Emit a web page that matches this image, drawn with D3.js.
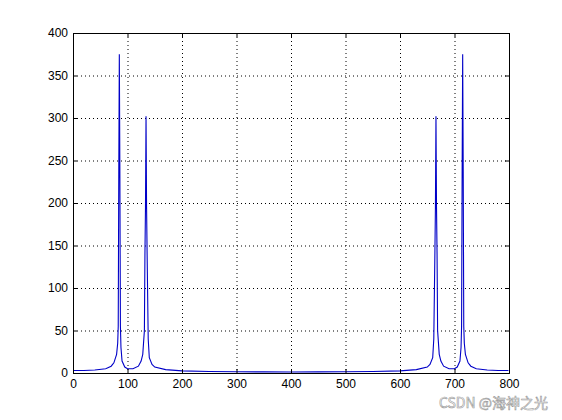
<!DOCTYPE html>
<html><head><meta charset="utf-8">
<script src="https://cdn.jsdelivr.net/npm/d3@7"></script>
<style>body{margin:0;background:#fff}</style></head>
<body><svg id="c" width="562" height="420"></svg>
<script>
const xs = [0,20,40,60,70,75,80,82,83,84,85,86,87,88,90,95,100,110,120,125,128,131,132,133,134,135,136,138,140,145,150,170,200,250,300,350,400,
  450,500,550,600,630,650,655,660,662,664,665,666,667,668,669,672,675,680,690,700,705,710,712,713,714,715,716,717,718,720,725,730,740,760,780,799];
const ys = [3,3,3.5,5,8,12,22,35,55,235,375,235,55,30,14,7,5,5,8,14,22,50,140,195,302,195,140,40,18,10,7,4,2.5,1.8,1.5,1.3,1.2,
  1.3,1.5,1.8,2.5,4,7,10,18,40,140,195,302,195,140,50,22,14,8,5,5,7,14,30,55,235,375,235,55,35,22,12,8,5,3.5,3,3];
const xTicks = [0,100,200,300,400,500,600,700,800];
const yTicks = [0,50,100,150,200,250,300,350,400];

const svg = d3.select("#c");
const L=73,R=509,T=33,B=373;
const x = d3.scaleLinear().domain([0,800]).range([L,R]);
const y = d3.scaleLinear().domain([0,400]).range([B,T]);
const g = svg.append("g");
g.selectAll(".gx").data(xTicks.slice(1,-1)).enter().append("line")
 .attr("x1",d=>x(d)+.5).attr("x2",d=>x(d)+.5).attr("y1",T).attr("y2",B)
 .attr("stroke","#000").attr("stroke-dasharray","1,3").attr("stroke-width",1);
g.selectAll(".gy").data(yTicks.slice(1,-1)).enter().append("line")
 .attr("y1",d=>y(d)+.5).attr("y2",d=>y(d)+.5).attr("x1",L).attr("x2",R)
 .attr("stroke","#000").attr("stroke-dasharray","1,3").attr("stroke-width",1);
const data = xs.map((v,i)=>[v,ys[i]]);
g.append("path").datum(data).attr("fill","none").attr("stroke","#0000c8").attr("stroke-width",1.1)
 .attr("d",d3.line().x(d=>x(d[0])).y(d=>y(d[1])));
const font = "Helvetica, 'Liberation Sans', Arial, sans-serif";
const ax = svg.append("g").attr("transform",`translate(0,${B})`).call(d3.axisBottom(x).tickValues(xTicks).tickSize(-4).tickPadding(6));
const ay = svg.append("g").attr("transform",`translate(${L},0)`).call(d3.axisLeft(y).tickValues(yTicks).tickSize(-4).tickPadding(5));
const axt = svg.append("g").attr("transform",`translate(0,${T})`).call(d3.axisTop(x).tickValues(xTicks).tickSize(-4).tickFormat(""));
const ayr = svg.append("g").attr("transform",`translate(${R},0)`).call(d3.axisRight(y).tickValues(yTicks).tickSize(-4).tickFormat(""));
[ax,ay,axt,ayr].forEach(a=>{a.selectAll("text").attr("font-family",font).attr("font-size",12).attr("fill","#000");
 a.selectAll("path,line").attr("stroke","#000");});
svg.append("text").attr("x",548).attr("y",408).attr("text-anchor","end").attr("font-family","'Noto Sans CJK SC', sans-serif")
 .attr("font-size",14).attr("fill","#fff").attr("stroke","#999").attr("stroke-width",0.6).text("CSDN @海神之光");
</script></body></html>
